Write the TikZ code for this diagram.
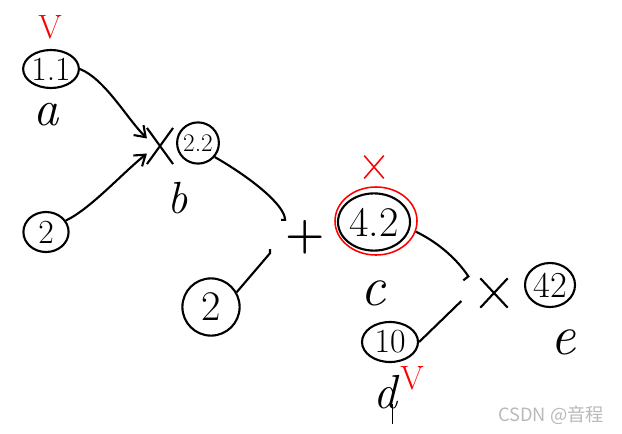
\documentclass[tikz,border=0pt]{standalone}
\usepackage{fontspec}
\newfontfamily\cjkfont{Noto Sans CJK SC}
\usetikzlibrary{arrows.meta,shapes.geometric,shapes.misc,calc}

\tikzset{
  valnode/.style={draw,ellipse,line width=1.5pt,inner sep=0pt},
  opnode/.style={draw,cross out,line width=1.5pt,inner sep=0pt},
  lbl/.style={inner sep=0pt,font=\itshape\fontsize{40}{40}\selectfont},
  redv/.style={text=red,inner sep=0pt,font=\fontsize{24}{24}\selectfont},
  wire/.style={line width=1.5pt},
}

\begin{document}
\begin{tikzpicture}[x=0.025cm,y=-0.025cm,>={Straight Barb[length=2.5mm,width=3.5mm]}]
			\useasboundingbox (0,0) rectangle (622,433);

			% left part
			\node[valnode,minimum width=1.3cm,minimum height=0.95cm] (a) at (51,69) {\fontsize{24}{24}\selectfont 1.1};
			\node[redv] (va) at (50,27) {V};
			\node[lbl,font=\itshape\fontsize{36}{36}\selectfont] (al) at (46,115) {a};
			\node[valnode,minimum width=1.13cm,minimum height=1cm] (z1) at (46,232) {\fontsize{24}{24}\selectfont 2};
			\node[opnode,minimum width=0.6cm,minimum height=0.85cm] (m1) at (160,146) {};
			\node[valnode,minimum width=1cm,minimum height=1.03cm] (b) at (198,143) {\fontsize{18}{18}\selectfont 2.2};
			\node[lbl,font=\itshape\fontsize{32}{32}\selectfont] (bl) at (178,198) {b};

			% middle part
			\node[inner sep=0pt,font=\bfseries\fontsize{32}{32}\selectfont] (pl) at (305,237) {+};
			\node[valnode,minimum size=1.43cm] (z2) at (211,307) {\fontsize{30}{30}\selectfont 2};
			\node[valnode,minimum width=1.8cm,minimum height=1.43cm] (c) at (374,222) {\fontsize{30}{30}\selectfont 4.2};
			\node[draw=red,ellipse,line width=1.1pt,minimum width=2.05cm,minimum height=1.7cm] (cr) at (376,221) {};
			\node[opnode,draw=red,line width=1.1pt,minimum width=0.45cm,minimum height=0.53cm] (xc) at (374,167) {};
			\node[lbl] (cl) at (373,293) {c};

			% right part
			\node[opnode,minimum width=0.63cm,minimum height=0.68cm] (m2) at (494,293) {};
			\node[valnode,minimum width=1.25cm,minimum height=1.1cm] (e) at (550,285) {\fontsize{26}{26}\selectfont 42};
			\node[lbl] (el) at (563,342) {e};
			\node[valnode,minimum width=1.4cm,minimum height=1cm] (d) at (390,342) {\fontsize{24}{24}\selectfont 10};
			\node[lbl,font=\itshape\fontsize{34}{34}\selectfont] (dl) at (385,392) {d};
			\node[redv] (vd) at (412,378) {V};
			\draw[line width=0.6pt] (392,404) -- (392,424);

			% connectors
			\draw[wire,->] (a.east) .. controls +(25,10) and +(-20,-20) .. (m1.150);
			\draw[wire,->] (z1.30) .. controls +(25,-12) and +(-25,20) .. (m1.210);
			\draw[wire] (b.-40) .. controls +(35,20) and +(0,-15) .. (pl.north west) -- +(-4,0);
			\draw[wire] (z2.30) -- ($(pl.south west)+(-15,-1)$) -- +(0,-4);
			\draw[wire] (cr.-15) .. controls +(25,12) and +(-10,-15) .. ($(m2.north west)+(-12,-2)$) -- +(-5,4);
			\draw[wire] (d.east) -- ($(m2.west)+(-19,8)$);

			\node[text=gray!55,inner sep=0pt,font=\cjkfont\fontsize{13}{13}\selectfont] (wm) at (551,415) {CSDN @音程};
		\end{tikzpicture}
\end{document}
